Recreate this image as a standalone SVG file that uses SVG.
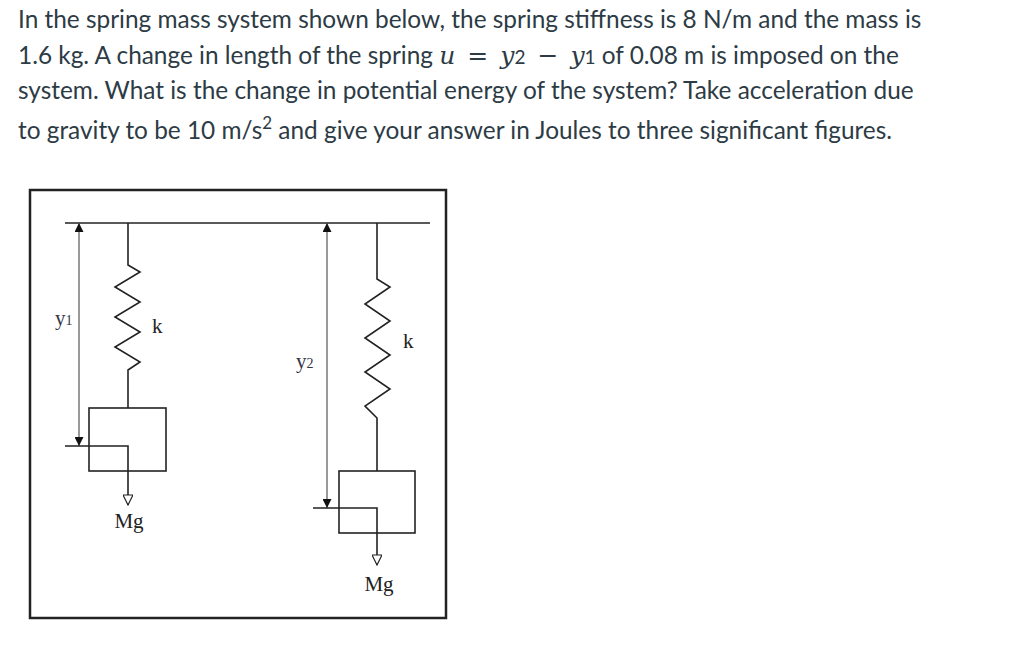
<svg xmlns="http://www.w3.org/2000/svg" width="1032" height="668" viewBox="0 0 1032 668">
<style>
.q{font-family:Lato,"Open Sans",sans-serif;font-size:24.4px;fill:#2d3b45}
.m{font-family:"DejaVu Serif","Liberation Serif",serif;font-style:italic;font-size:25px}
.o{font-family:"DejaVu Serif","Liberation Serif",serif;font-size:25px}
.l{font-family:"Liberation Serif",serif;font-size:21px;fill:#222}
.s{fill:none;stroke:#222;stroke-width:1.6}
.d{fill:none;stroke:#555;stroke-width:1.2}
</style>
<defs>
<marker id="f" viewBox="0 0 10 10" refX="10" refY="5" markerWidth="13" markerHeight="9" markerUnits="userSpaceOnUse" orient="auto"><path d="M0,0L10,5L0,10z" fill="#111"/></marker>
<marker id="h" viewBox="0 0 10 10" refX="10" refY="5" markerWidth="12" markerHeight="10" markerUnits="userSpaceOnUse" orient="auto"><path d="M0,0L10,5L0,10z" fill="#fff" stroke="#222" stroke-width="1.2"/></marker>
</defs>
<rect width="1032" height="668" fill="#fff"/>
<g id="question" class="q">
<text x="18" y="28">In the spring mass system shown below, the spring stiffness is 8 N/m and the mass is</text>
<text x="18" y="64">1.6 kg. A change in length of the spring <tspan class="m">u</tspan><tspan class="o" dx="12">=</tspan><tspan class="m" dx="12">y</tspan><tspan font-size="19">2</tspan><tspan class="o" dx="12">−</tspan><tspan class="m" dx="12">y</tspan><tspan font-size="19">1</tspan> of 0.08 m is imposed on the</text>
<text x="18" y="99">system. What is the change in potential energy of the system? Take acceleration due</text>
<text x="18" y="139">to gravity to be 10 m/s<tspan dy="-10" font-size="17">2</tspan><tspan dy="10"> and give your answer in Joules to three significant figures.</tspan></text>
</g>
<g id="frame"><rect x="30" y="190" width="416" height="428" fill="none" stroke="#222" stroke-width="2.5"/>
<line class="s" x1="65" y1="223" x2="430" y2="223"/></g>
<g id="left-spring"><path class="s" d="M128,223V265L140,272L115,287L140,302L115,317L140,332L115,347L140,362L128,370V408"/><text class="l" x="152" y="333">k</text></g>
<g id="left-mass"><rect class="s" x="89" y="408" width="77" height="63"/><text class="l" x="129" y="528" text-anchor="middle">Mg</text></g>
<g id="right-spring"><path class="s" d="M377,223V279L390,287L365,304L390,321L365,338L390,355L365,372L390,389L365,406L377,418V471"/><text class="l" x="403" y="348">k</text></g>
<g id="right-mass"><rect class="s" x="339" y="471" width="76" height="62"/><text class="l" x="379" y="591" text-anchor="middle">Mg</text></g>
<g id="connectors">
<line class="d" x1="79" y1="300" x2="79" y2="446" marker-end="url(#f)"/>
<line class="d" x1="79" y1="300" x2="79" y2="223" marker-end="url(#f)"/>
<path class="s" d="M65,446H128V505" marker-end="url(#h)"/>
<line class="d" x1="327" y1="360" x2="327" y2="223" marker-end="url(#f)"/>
<line class="d" x1="327" y1="360" x2="327" y2="508" marker-end="url(#f)"/>
<path class="s" d="M313,508H377V565" marker-end="url(#h)"/>
</g>
<g id="labels" class="l">
<text x="55" y="325" fill="#334">y<tspan font-size="14">1</tspan></text>
<text x="296" y="368" fill="#334">y<tspan font-size="14">2</tspan></text>
</g>
</svg>
